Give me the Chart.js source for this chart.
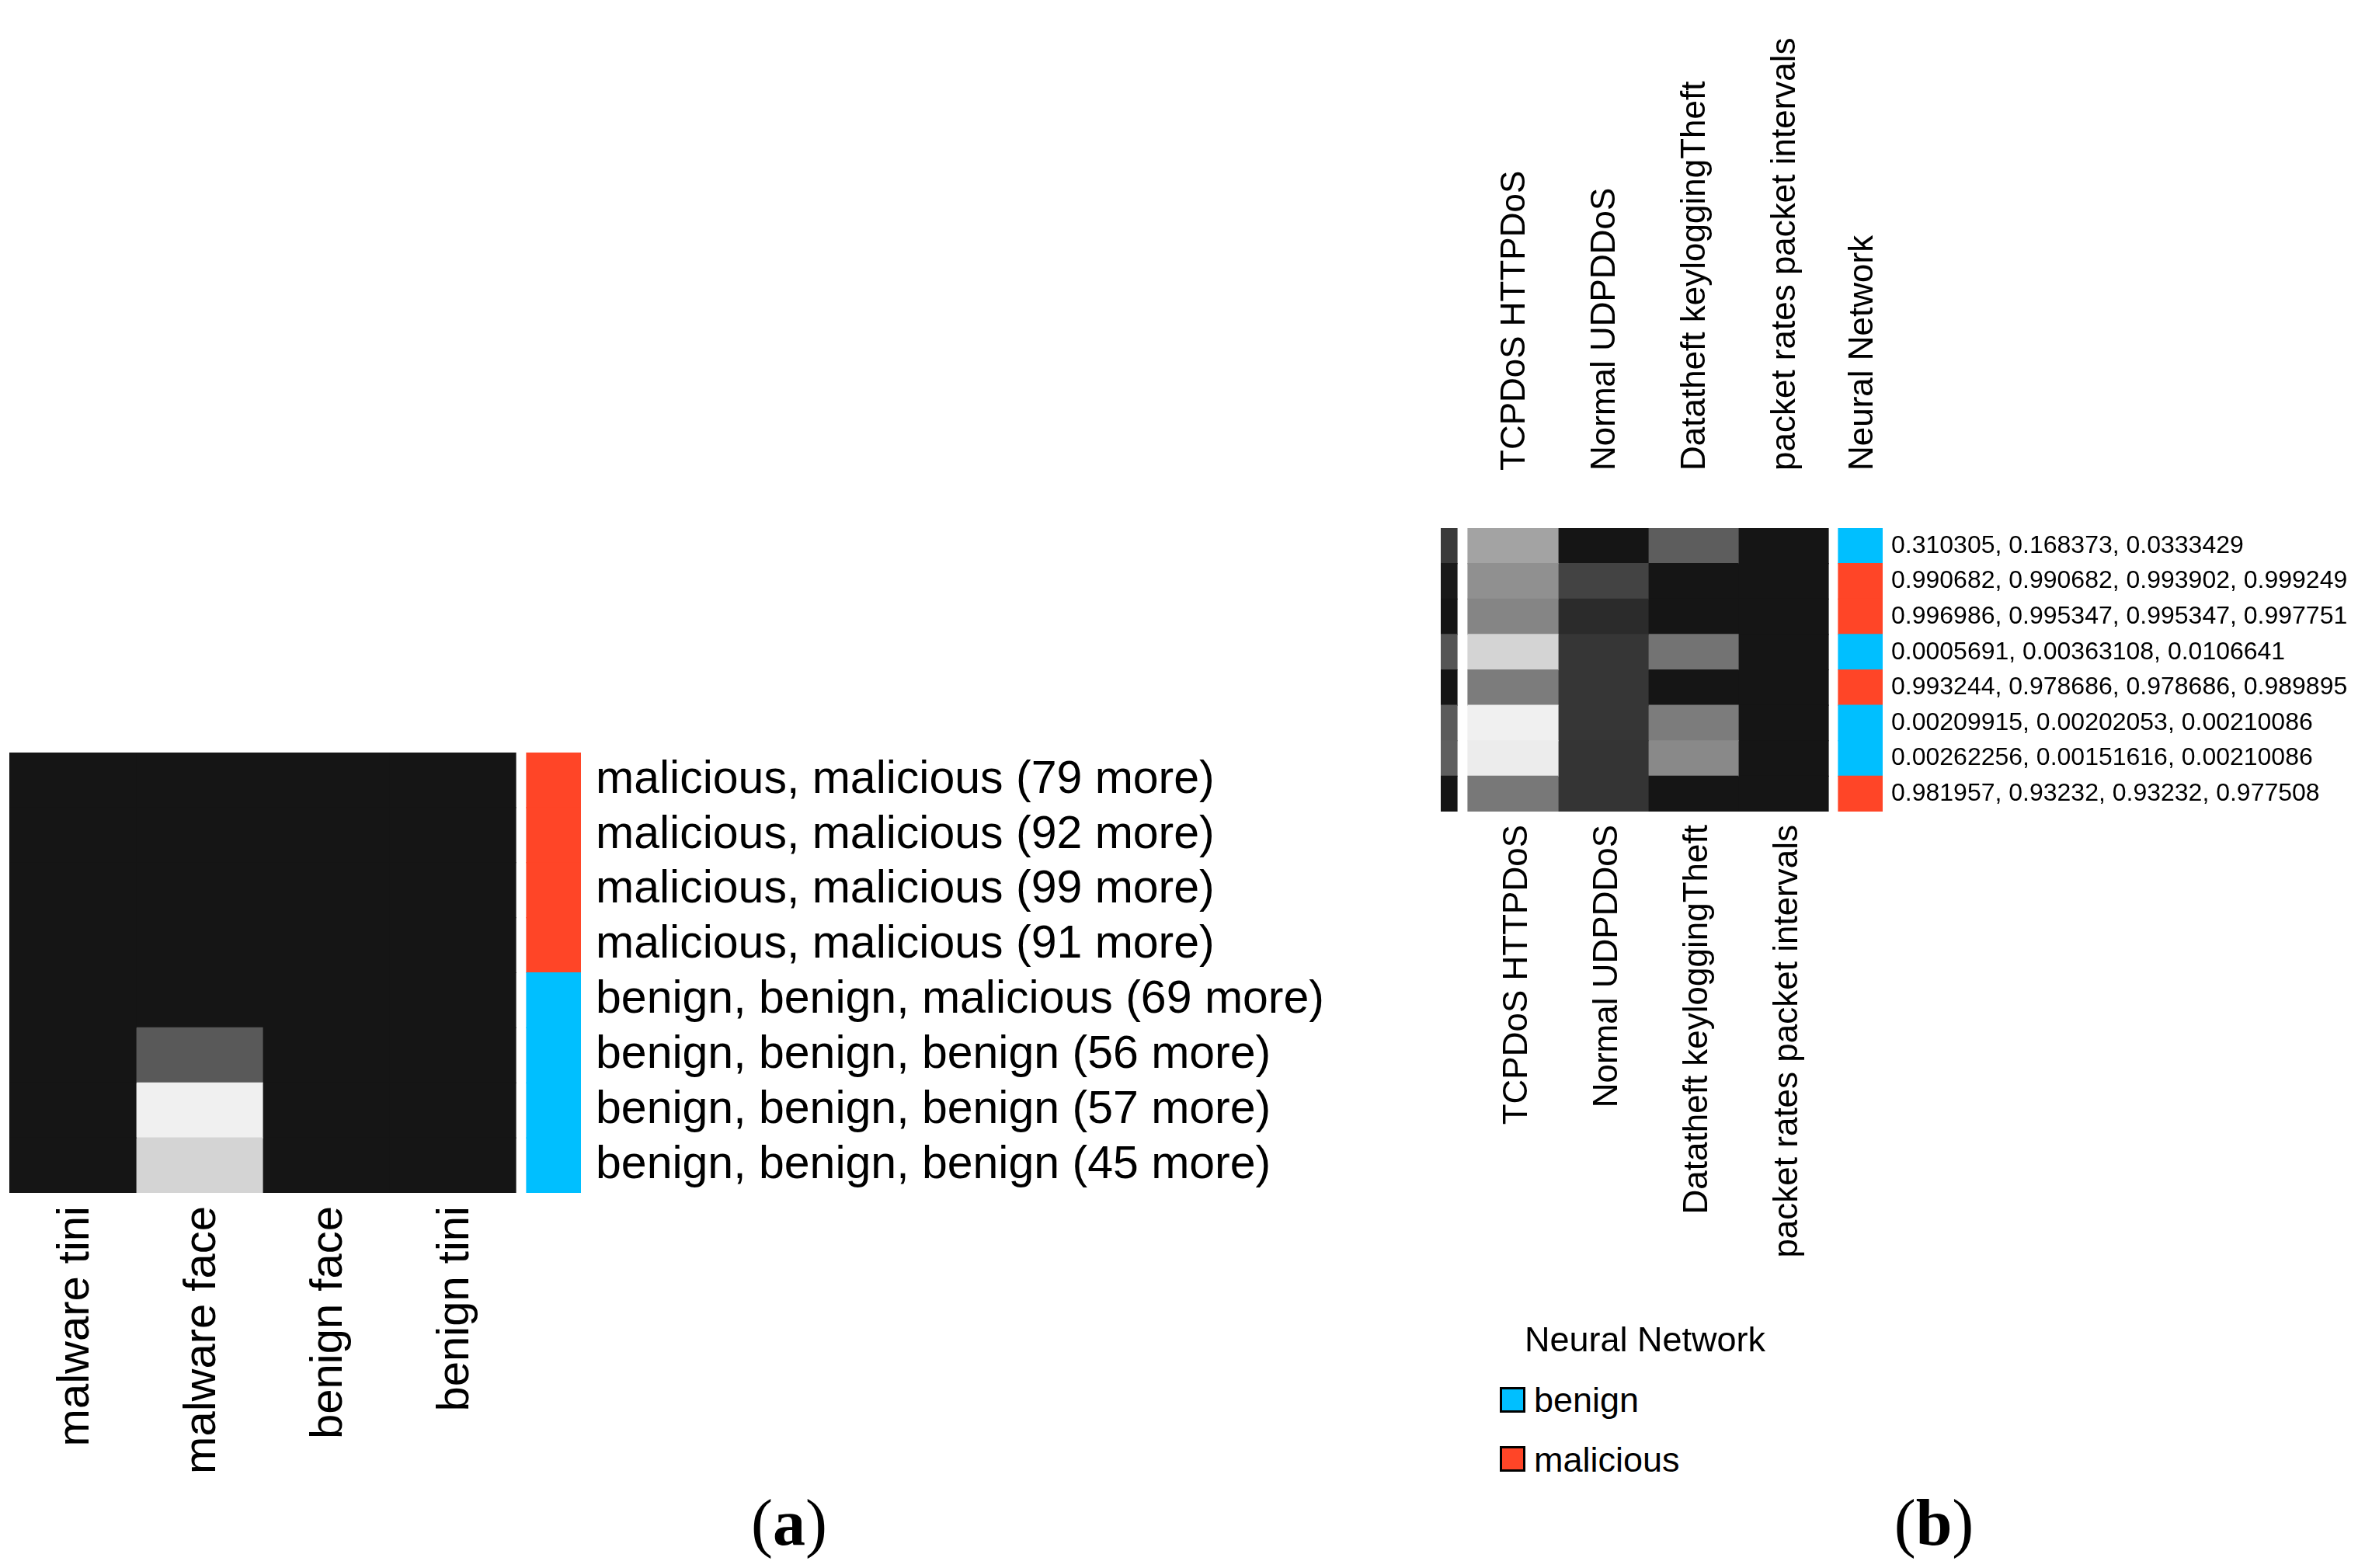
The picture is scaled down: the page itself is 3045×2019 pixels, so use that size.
<!DOCTYPE html>
<html>
<head>
<meta charset="utf-8">
<title>Heatmaps (a) and (b)</title>
<script src="https://cdn.jsdelivr.net/npm/chart.js@4.4.0/dist/chart.umd.min.js"></script>
<style>
    body { margin: 0; background: #fff; width: 3045px; height: 2019px; position: relative; overflow: hidden; }
    .box { position: absolute; }
    .legend { font-family: 'Liberation Sans', Arial, sans-serif; font-size: 45px; line-height: 45px; color: #000; white-space: nowrap; }
    .swatch { position: absolute; width: 33px; height: 33px; border: 3px solid #000; box-sizing: border-box; }
    .caption { font-family: 'Liberation Serif', 'Times New Roman', serif; font-size: 84px; line-height: 84px; text-align: center; width: 300px; }
</style>
</head>
<body>

<div class="box" style="left:0;top:900px;"><canvas id="chartA" width="1800" height="1000"></canvas></div>
<div class="box" style="left:1830px;top:0;"><canvas id="chartB" width="1215" height="1700"></canvas></div>

<!-- legend of panel (b) -->
<div class="box legend" id="legendTitle" style="left:1963px;top:1702px;"></div>
<div class="swatch" id="swBenign" style="left:1931px;top:1786px;"></div>
<div class="box legend" id="lgBenign" style="left:1975px;top:1780px;"></div>
<div class="swatch" id="swMalicious" style="left:1931px;top:1862px;"></div>
<div class="box legend" id="lgMalicious" style="left:1975px;top:1857px;"></div>

<div class="box caption" style="left:866px;top:1919px;">(<b>a</b>)</div>
<div class="box caption" style="left:2340px;top:1919px;">(<b>b</b>)</div>

<script>
// ---------------- panel (a) data ----------------
var colLabelsA = ["malware tini", "malware face", "benign face", "benign tini"];
var rowLabelsA = [
    "malicious, malicious (79 more)",
    "malicious, malicious (92 more)",
    "malicious, malicious (99 more)",
    "malicious, malicious (91 more)",
    "benign, benign, malicious (69 more)",
    "benign, benign, benign (56 more)",
    "benign, benign, benign (57 more)",
    "benign, benign, benign (45 more)"
];
var rowClassA = ["malicious", "malicious", "malicious", "malicious", "benign", "benign", "benign", "benign"];
// cell intensity 0..1 (rows x columns)
var valuesA = [
    [0, 0, 0, 0],
    [0, 0, 0, 0],
    [0, 0, 0, 0],
    [0, 0, 0, 0],
    [0, 0, 0, 0],
    [0, 0.31, 0, 0],
    [0, 1.0, 0, 0],
    [0, 0.87, 0, 0]
];

// ---------------- panel (b) data ----------------
var colLabelsB = ["TCPDoS HTTPDoS", "Normal UDPDDoS", "Datatheft keyloggingTheft", "packet rates packet intervals"];
var classTitleB = "Neural Network";
var classNames = ["benign", "malicious"];
var rowLabelsB = [
    "0.310305, 0.168373, 0.0333429",
    "0.990682, 0.990682, 0.993902, 0.999249",
    "0.996986, 0.995347, 0.995347, 0.997751",
    "0.0005691, 0.00363108, 0.0106641",
    "0.993244, 0.978686, 0.978686, 0.989895",
    "0.00209915, 0.00202053, 0.00210086",
    "0.00262256, 0.00151616, 0.00210086",
    "0.981957, 0.93232, 0.93232, 0.977508"
];
var rowClassB = ["benign", "malicious", "malicious", "benign", "malicious", "benign", "benign", "malicious"];
// the partly visible column at the left edge of the heatmap
var edgeValuesB = [0.17, 0.02, 0, 0.29, 0, 0.32, 0.34, 0];
var valuesB = [
    [0.65, 0, 0.33, 0],
    [0.56, 0.21, 0, 0],
    [0.51, 0.10, 0, 0],
    [0.87, 0.15, 0.43, 0],
    [0.47, 0.15, 0, 0],
    [1.0, 0.15, 0.47, 0],
    [0.98, 0.14, 0.53, 0],
    [0.45, 0.14, 0, 0]
];

// ---------------- styles / layout ----------------
var FONT = "'Liberation Sans', Arial, sans-serif";
var classColors = { benign: "#00bfff", malicious: "#ff4527" };
var CLEAR = "rgba(0,0,0,0)";

// strip widths in pixels of the plot area (x scale runs in pixels)
var layoutA = { cell: 163, gap: 14, bar: 70 };
var layoutB = { edge: 21, edgeGap: 14, cell: 116, gap: 13, bar: 57 };

// gray colormap: 0 -> #151515, 1 -> #f0f0f0
function grayColor(v) {
    var g = Math.round(21 + v * (240 - 21));
    return "rgb(" + g + "," + g + "," + g + ")";
}

// one horizontal strip (column) of the heatmap, stacked next to the others
function strip(width, colors) {
    return {
        data: colors.map(function () { return width; }),
        backgroundColor: colors,
        borderWidth: 0,
        inflateAmount: 0.6, // close the hairline seams between rows
        barPercentage: 1,
        categoryPercentage: 1,
        xAxisID: "x",
        yAxisID: "y"
    };
}

// axis that shows text labels at given x positions (rotated 90 degrees)
function labelAxis(position, total, centers, labels, padding, size, height, shift) {
    return {
        type: "linear",
        position: position,
        stacked: position === "bottom",
        min: 0,
        max: total,
        grid: { display: false, drawTicks: false },
        border: { display: false },
        afterBuildTicks: function (scale) {
            scale.ticks = centers.map(function (c) { return { value: c }; });
        },
        afterFit: function (scale) {
            scale.height = height;
            scale.paddingLeft = 0;
            scale.paddingRight = 0;
        },
        ticks: {
            autoSkip: false,
            minRotation: 90,
            maxRotation: 90,
            padding: padding,
            labelOffset: shift,
            color: "#000",
            font: { family: FONT, size: size },
            callback: function (value, index) { return labels[index]; }
        }
    };
}

function rowAxis(labels, padding, size, width) {
    return {
        type: "category",
        position: "right",
        stacked: true,
        grid: { display: false, drawTicks: false },
        border: { display: false },
        afterFit: function (scale) {
            scale.width = width;
            scale.paddingTop = 0;
            scale.paddingBottom = 0;
        },
        ticks: {
            autoSkip: false,
            padding: padding,
            color: "#000",
            font: { family: FONT, size: size }
        }
    };
}

var commonOptions = {
    indexAxis: "y",
    responsive: false,
    animation: false,
    plugins: { legend: { display: false }, tooltip: { enabled: false } }
};

// ---------------- panel (a) chart ----------------
var datasetsA = [];
var centersA = [];
var posA = 0;
colLabelsA.forEach(function (name, c) {
    datasetsA.push(strip(layoutA.cell, valuesA.map(function (row) { return grayColor(row[c]); })));
    centersA.push(posA + layoutA.cell / 2);
    posA += layoutA.cell;
});
datasetsA.push(strip(layoutA.gap, rowClassA.map(function () { return CLEAR; })));
posA += layoutA.gap;
datasetsA.push(strip(layoutA.bar, rowClassA.map(function (k) { return classColors[k]; })));
posA += layoutA.bar;

new Chart(document.getElementById("chartA").getContext("2d"), {
    type: "bar",
    data: { labels: rowLabelsA, datasets: datasetsA },
    options: Object.assign({}, commonOptions, {
        layout: { padding: { left: 12, top: 69, right: 0, bottom: 0 } },
        scales: {
            x: labelAxis("bottom", posA, centersA, colLabelsA, 17, 58, 364, 4),
            y: rowAxis(rowLabelsA, 19, 59, 1800 - 748)
        }
    })
});

// ---------------- panel (b) chart ----------------
var datasetsB = [];
var centersB = [];
var posB = 0;
datasetsB.push(strip(layoutB.edge, edgeValuesB.map(grayColor)));
posB += layoutB.edge;
datasetsB.push(strip(layoutB.edgeGap, rowClassB.map(function () { return CLEAR; })));
posB += layoutB.edgeGap;
colLabelsB.forEach(function (name, c) {
    datasetsB.push(strip(layoutB.cell, valuesB.map(function (row) { return grayColor(row[c]); })));
    centersB.push(posB + layoutB.cell / 2);
    posB += layoutB.cell;
});
datasetsB.push(strip(layoutB.gap, rowClassB.map(function () { return CLEAR; })));
posB += layoutB.gap;
datasetsB.push(strip(layoutB.bar, rowClassB.map(function (k) { return classColors[k]; })));
var topCentersB = centersB.concat([posB + layoutB.bar / 2]);
var topLabelsB = colLabelsB.concat([classTitleB]);
posB += layoutB.bar;

new Chart(document.getElementById("chartB").getContext("2d"), {
    type: "bar",
    data: { labels: rowLabelsB, datasets: datasetsB },
    options: Object.assign({}, commonOptions, {
        layout: { padding: { left: 25, top: 0, right: 0, bottom: 0 } },
        scales: {
            x: labelAxis("bottom", posB, centersB, colLabelsB, 17, 44, 1700 - 1045, 6),
            // top labels: rotated text sits one line height left of its tick, push it back
            xTop: labelAxis("top", posB, topCentersB, topLabelsB, 74, 44, 680, 56),
            y: rowAxis(rowLabelsB, 11, 32, 1215 - 594)
        }
    })
});

// ---------------- legend of panel (b) ----------------
document.getElementById("legendTitle").textContent = classTitleB;
document.getElementById("lgBenign").textContent = classNames[0];
document.getElementById("lgMalicious").textContent = classNames[1];
document.getElementById("swBenign").style.background = classColors[classNames[0]];
document.getElementById("swMalicious").style.background = classColors[classNames[1]];
</script>
</body>
</html>
